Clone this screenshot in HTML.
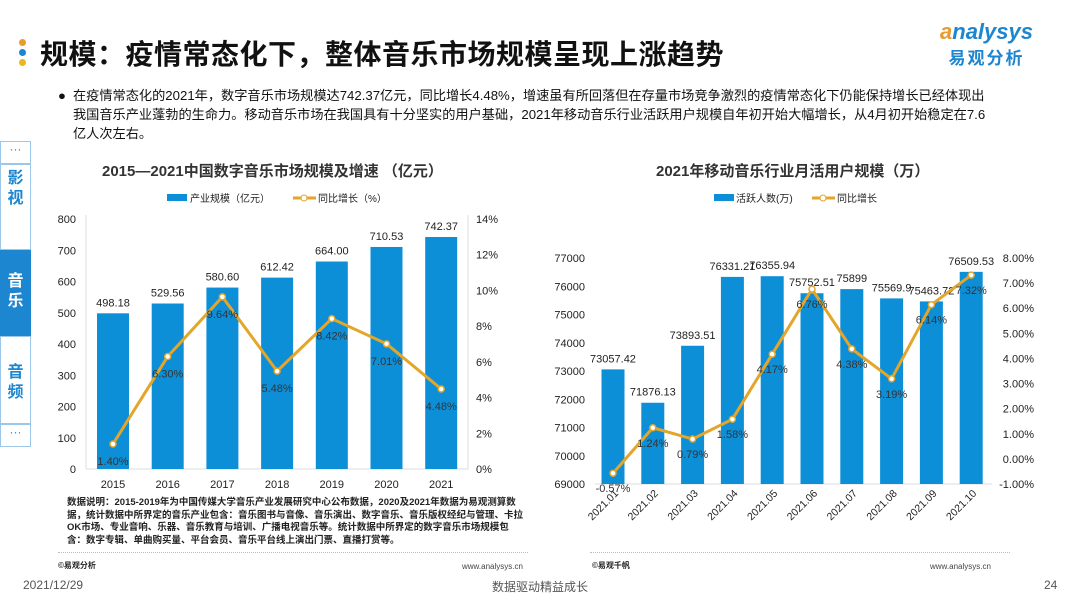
<!DOCTYPE html>
<html><head><meta charset="utf-8">
<style>
body{margin:0;width:1080px;height:608px;background:#fff;overflow:hidden;position:relative;font-family:"Liberation Sans","Noto Sans CJK SC",sans-serif;color:#222}
.abs{position:absolute}
</style></head>
<body>
<div class="abs" style="left:19px;top:39px;">
<div style="width:7px;height:7px;border-radius:50%;background:#e89b2e;margin-bottom:3px"></div>
<div style="width:7px;height:7px;border-radius:50%;background:#1c86d0;margin-bottom:3px"></div>
<div style="width:7px;height:7px;border-radius:50%;background:#e8b91e"></div></div>
<div class="abs" style="left:40px;top:33px;font-size:28px;font-weight:bold;color:#111;letter-spacing:0.5px">规模：疫情常态化下，整体音乐市场规模呈现上涨趋势</div>
<div class="abs" style="left:940px;top:20px;text-align:center">
<div style="font-size:22px;font-style:italic;font-weight:bold;color:#1c86d0;line-height:24px"><span style="color:#e89b2e">a</span>nalysys</div>
<div style="font-size:17px;font-weight:bold;color:#1c86d0;letter-spacing:2px">易观分析</div></div>
<div class="abs" style="left:58px;top:86px;width:980px;font-size:13.2px;line-height:19px;color:#111;white-space:nowrap">
<span style="position:absolute;left:0;top:0">●</span><div style="margin-left:15px">在疫情常态化的2021年，数字音乐市场规模达742.37亿元，同比增长4.48%，增速虽有所回落但在存量市场竞争激烈的疫情常态化下仍能保持增长已经体现出<br>我国音乐产业蓬勃的生命力。移动音乐市场在我国具有十分坚实的用户基础，2021年移动音乐行业活跃用户规模自年初开始大幅增长，从4月初开始稳定在7.6<br>亿人次左右。</div></div>
<div class="abs" style="left:0;top:141px;width:31px;">
<div style="height:21px;border:1px solid #9cc7e8;text-align:center;color:#1c86d0;font-size:12px">···</div>
<div style="height:86px;border:1px solid #9cc7e8;color:#1c86d0;font-size:16px;font-weight:bold;text-align:center;padding-top:4px;box-sizing:border-box;line-height:20px">影<br>视</div>
<div style="height:86px;background:#1c86d0;color:#fff;font-size:16px;font-weight:bold;text-align:center;padding-top:22px;box-sizing:border-box;line-height:20px">音<br>乐</div>
<div style="height:88px;border:1px solid #9cc7e8;color:#1c86d0;font-size:16px;font-weight:bold;text-align:center;padding-top:26px;box-sizing:border-box;line-height:20px">音<br>频</div>
<div style="height:21px;border:1px solid #9cc7e8;text-align:center;color:#1c86d0;font-size:12px">···</div></div>
<div class="abs" style="left:102px;top:160px;font-size:15px;font-weight:bold;color:#333">2015—2021中国数字音乐市场规模及增速 （亿元）</div>
<div class="abs" style="left:656px;top:160px;font-size:15px;font-weight:bold;color:#333">2021年移动音乐行业月活用户规模（万）</div>
<svg class="abs" style="left:0;top:0" width="1080" height="608" id="svg"></svg>
<div class="abs" style="left:67px;top:497px;width:460px;font-size:9.5px;line-height:12.5px;color:#222;font-weight:bold">数据说明：2015-2019年为中国传媒大学音乐产业发展研究中心公布数据，2020及2021年数据为易观测算数据，统计数据中所界定的音乐产业包含：音乐图书与音像、音乐演出、数字音乐、音乐版权经纪与管理、卡拉OK市场、专业音响、乐器、音乐教育与培训、广播电视音乐等。统计数据中所界定的数字音乐市场规模包含：数字专辑、单曲购买量、平台会员、音乐平台线上演出门票、直播打赏等。</div>
<div class="abs" style="left:58px;top:552px;width:470px;border-top:1px dotted #bbb"></div>
<div class="abs" style="left:590px;top:552px;width:420px;border-top:1px dotted #bbb"></div>
<div class="abs" style="left:58px;top:560px;font-size:8px;font-weight:bold">©易观分析</div>
<div class="abs" style="left:462px;top:562px;font-size:8px;color:#444">www.analysys.cn</div>
<div class="abs" style="left:592px;top:560px;font-size:8px;font-weight:bold">©易观千帆</div>
<div class="abs" style="left:930px;top:562px;font-size:8px;color:#444">www.analysys.cn</div>
<div class="abs" style="left:23px;top:578px;font-size:12px;color:#555">2021/12/29</div>
<div class="abs" style="left:492px;top:578px;font-size:12px;color:#555">数据驱动精益成长</div>
<div class="abs" style="left:1044px;top:578px;font-size:12px;color:#555">24</div>
<script>
const lYears=["2015","2016","2017","2018","2019","2020","2021"];
const lSize=[498.18,529.56,580.60,612.42,664.00,710.53,742.37];
const lGrowth=[1.40,6.30,9.64,5.48,8.42,7.01,4.48];
const lLeftTicks=[0,100,200,300,400,500,600,700,800];
const lRightTicks=[0,2,4,6,8,10,12,14];
const rMonths=["2021.01","2021.02","2021.03","2021.04","2021.05","2021.06","2021.07","2021.08","2021.09","2021.10"];
const rUsers=[73057.42,71876.13,73893.51,76331.21,76355.94,75752.51,75899,75569.9,75463.72,76509.53];
const rGrowth=[-0.57,1.24,0.79,1.58,4.17,6.76,4.38,3.19,6.14,7.32];
const rLeftTicks=[69000,70000,71000,72000,73000,74000,75000,76000,77000];
const rRightTicks=[-1,0,1,2,3,4,5,6,7,8];
const svg=document.getElementById('svg');const NS="http://www.w3.org/2000/svg";
function mk(t,a,txt){const e=document.createElementNS(NS,t);for(const k in a)e.setAttribute(k,a[k]);if(txt!==undefined)e.textContent=txt;svg.appendChild(e);return e;}
const BLUE="#0d8fd8",ORG="#e3a52a";
const L={x0:86,x1:468,y0:469,y1:219};
const lx=i=>113+i*54.7, ly=v=>L.y0-(v/800)*(L.y0-L.y1), lr=v=>L.y0-(v/14)*(L.y0-L.y1);
let e;
e=mk('line',{x1:L.x0,y1:L.y1-4,x2:L.x0,y2:L.y0,stroke:'#ddd'});
e=mk('line',{x1:L.x0,y1:L.y0,x2:L.x1,y2:L.y0,stroke:'#ddd'});
e=mk('line',{x1:L.x1,y1:L.y1-4,x2:L.x1,y2:L.y0,stroke:'#ddd'});
lLeftTicks.forEach(v=>{e=mk('text',{x:76,y:ly(v)+4,'text-anchor':'end','font-size':11,fill:'#222'},v);});
lRightTicks.forEach(v=>{e=mk('text',{x:476,y:lr(v)+4,'font-size':11,fill:'#222'},v+'%');});
lYears.forEach((y,i)=>{
 e=mk('rect',{x:lx(i)-16,y:ly(lSize[i]),width:32,height:L.y0-ly(lSize[i]),fill:BLUE});
 e=mk('text',{x:lx(i),y:ly(lSize[i])-7,'text-anchor':'middle','font-size':11,fill:'#222'},lSize[i].toFixed(2));
 e=mk('text',{x:lx(i),y:488,'text-anchor':'middle','font-size':11,fill:'#222'},y);
});
e=mk('polyline',{points:lGrowth.map((g,i)=>lx(i)+','+lr(g)).join(' '),fill:'none',stroke:ORG,'stroke-width':3});
lGrowth.forEach((g,i)=>{e=mk('circle',{cx:lx(i),cy:lr(g),r:3,fill:'#fff',stroke:ORG,'stroke-width':1.5});
 e=mk('text',{x:lx(i),y:lr(g)+21,'text-anchor':'middle','font-size':11,fill:'#333'},g.toFixed(2)+'%');});
e=mk('rect',{x:167,y:194,width:20,height:7,fill:BLUE});
e=mk('text',{x:190,y:202,'font-size':10,fill:'#222'},'产业规模（亿元）');
e=mk('line',{x1:293,y1:198,x2:316,y2:198,stroke:ORG,'stroke-width':3});
e=mk('circle',{cx:304,cy:198,r:3,fill:'#fff',stroke:ORG});
e=mk('text',{x:318,y:202,'font-size':10,fill:'#222'},'同比增长（%）');
const R={x0:595,x1:992,y0:484,y1:258};
const rx=i=>613+i*39.8, ry=v=>R.y0-((v-69000)/8000)*(R.y0-R.y1), rr=v=>R.y0-((v+1)/9)*(R.y0-R.y1);
e=mk('line',{x1:R.x0,y1:R.y0,x2:R.x1,y2:R.y0,stroke:'#ddd'});
rLeftTicks.forEach(v=>{e=mk('text',{x:585,y:ry(v)+4,'text-anchor':'end','font-size':11,fill:'#222'},v);});
rRightTicks.forEach(v=>{e=mk('text',{x:1034,y:rr(v)+4,'text-anchor':'end','font-size':11,fill:'#222'},v.toFixed(2)+'%');});
rMonths.forEach((m,i)=>{
 e=mk('rect',{x:rx(i)-11.5,y:ry(rUsers[i]),width:23,height:R.y0-ry(rUsers[i]),fill:BLUE});
 e=mk('text',{x:rx(i),y:ry(rUsers[i])-7,'text-anchor':'middle','font-size':11,fill:'#222'},String(rUsers[i]));
 e=mk('text',{x:rx(i)+6,y:494,'text-anchor':'end','font-size':10.5,fill:'#222',transform:`rotate(-45 ${rx(i)+6} 494)`},m);
});
e=mk('polyline',{points:rGrowth.map((g,i)=>rx(i)+','+rr(g)).join(' '),fill:'none',stroke:ORG,'stroke-width':3});
rGrowth.forEach((g,i)=>{e=mk('circle',{cx:rx(i),cy:rr(g),r:3,fill:'#fff',stroke:ORG,'stroke-width':1.5});
 e=mk('text',{x:rx(i),y:rr(g)+19,'text-anchor':'middle','font-size':11,fill:'#333'},g.toFixed(2)+'%');});
e=mk('rect',{x:714,y:194,width:20,height:7,fill:BLUE});
e=mk('text',{x:736,y:202,'font-size':10,fill:'#222'},'活跃人数(万)');
e=mk('line',{x1:812,y1:198,x2:835,y2:198,stroke:ORG,'stroke-width':3});
e=mk('circle',{cx:823,cy:198,r:3,fill:'#fff',stroke:ORG});
e=mk('text',{x:837,y:202,'font-size':10,fill:'#222'},'同比增长');
</script>
</body></html>
